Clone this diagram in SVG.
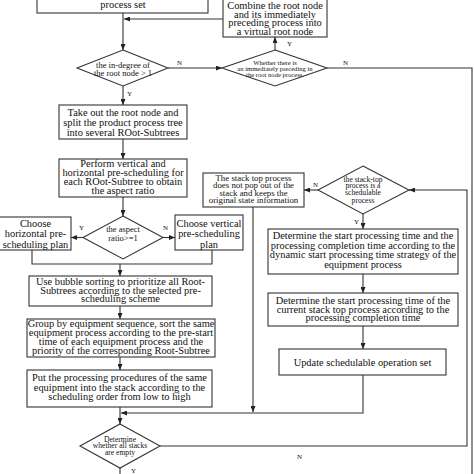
<svg xmlns="http://www.w3.org/2000/svg" width="474" height="474" viewBox="0 0 474 474">
<style>
.box{fill:#fff;stroke:#333;stroke-width:1.1}
.t{font-family:"Liberation Serif","Times New Roman",serif;font-size:10.4px;fill:#111;text-anchor:middle}
.s9{font-size:8.8px}
.s8{font-size:8.5px}
.s75{font-size:7.6px}
.s7{font-size:6.6px}
.ln{fill:none;stroke:#333;stroke-width:1.1}
.lb{font-family:"Liberation Serif","Times New Roman",serif;font-size:7px;fill:#111}
</style>
<defs>
<marker id="ah" markerWidth="6" markerHeight="5" refX="6" refY="2.5" orient="auto" markerUnits="userSpaceOnUse">
<path d="M0,0 L6,2.5 L0,5 z" fill="#222"/>
</marker>
</defs>
<rect width="474" height="474" fill="#fff"/>

<g id="connectors">
<path class="ln" d="M123,13 V50" marker-end="url(#ah)"/>
<path class="ln" d="M223,19 H124" marker-end="url(#ah)"/>
<path class="ln" d="M168,68 H222" marker-end="url(#ah)"/>
<path class="ln" d="M275,50 V37" marker-end="url(#ah)"/>
<path class="ln" d="M327,68 H472 V474"/>
<path class="ln" d="M123,86 V105" marker-end="url(#ah)"/>
<path class="ln" d="M123,139 V159" marker-end="url(#ah)"/>
<path class="ln" d="M123,197 V216" marker-end="url(#ah)"/>
<path class="ln" d="M83,237.5 H71" marker-end="url(#ah)"/>
<path class="ln" d="M163,237.5 H175" marker-end="url(#ah)"/>
<path class="ln" d="M32,250 V264 H212 V250"/>
<path class="ln" d="M120,264 V276" marker-end="url(#ah)"/>
<path class="ln" d="M120,306 V319" marker-end="url(#ah)"/>
<path class="ln" d="M120,357 V370" marker-end="url(#ah)"/>
<path class="ln" d="M120,407 V424" marker-end="url(#ah)"/>
<path class="ln" d="M363,375 V413 H121" marker-end="url(#ah)"/>
<path class="ln" d="M253,207 V412" marker-end="url(#ah)"/>
<path class="ln" d="M160,446 H467 V190 H409" marker-end="url(#ah)"/>
<path class="ln" d="M318,190 H304" marker-end="url(#ah)"/>
<path class="ln" d="M363,214 V229" marker-end="url(#ah)"/>
<path class="ln" d="M363,274 V293" marker-end="url(#ah)"/>
<path class="ln" d="M363,326 V349" marker-end="url(#ah)"/>
<path class="ln" d="M120,468 V474"/>
<text class="lb" x="177" y="64.5">N</text>
<text class="lb" x="127" y="96">Y</text>
<text class="lb" x="287" y="46">Y</text>
<text class="lb" x="343" y="64.5">N</text>
<text class="lb" x="79" y="229.5">Y</text>
<text class="lb" x="163" y="229.5">N</text>
<text class="lb" x="313" y="186.5">N</text>
<text class="lb" x="354" y="223.5">Y</text>
<text class="lb" x="297" y="458.5">N</text>
<text class="lb" x="131" y="473">Y</text>
</g>

<g id="node-process-set">
<rect class="box" x="37" y="-20" width="171" height="33"/>
<text class="t" x="123" y="8">process set</text>
</g>

<g id="node-combine">
<rect class="box" x="223" y="-1" width="104" height="38"/>
<text class="t"><tspan x="275" y="9">Combine the root node</tspan><tspan x="275" y="17.5">and its immediately</tspan><tspan x="275" y="26">preceding process into</tspan><tspan x="275" y="34.5">a virtual root node</tspan></text>
</g>

<g id="node-indegree">
<polygon class="box" points="123,50 168,68 123,86 77,68"/>
<text class="t s8"><tspan x="123" y="68">the in-degree of</tspan><tspan x="123" y="76">the root node &gt; 1</tspan></text>
</g>

<g id="node-whether">
<polygon class="box" points="275,50 327,68 275,86 222,68"/>
<text class="t s7"><tspan x="275" y="64.5">Whether there is</tspan><tspan x="275" y="70.5">an immediately preceding  in</tspan><tspan x="275" y="76.5">the root node process.</tspan></text>
</g>

<g id="node-takeout">
<rect class="box" x="59" y="105" width="128" height="34"/>
<text class="t"><tspan x="123" y="116">Take out the root node and</tspan><tspan x="123" y="126">split the product process tree</tspan><tspan x="123" y="136">into several ROot-Subtrees</tspan></text>
</g>

<g id="node-perform">
<rect class="box" x="59" y="159" width="128" height="38"/>
<text class="t"><tspan x="123" y="167">Perform vertical and</tspan><tspan x="123" y="176">horizontal pre-scheduling for</tspan><tspan x="123" y="185">each ROot-Subtree to obtain</tspan><tspan x="123" y="194">the aspect ratio</tspan></text>
</g>

<g id="node-aspect">
<polygon class="box" points="123,216 163,237.5 123,259 83,237.5"/>
<text class="t s8"><tspan x="123" y="232">the aspect</tspan><tspan x="123" y="241">ratio&gt;=1</tspan></text>
</g>

<g id="node-horizontal">
<rect class="box" x="-1" y="217" width="72" height="33"/>
<text class="t"><tspan x="35.5" y="226.5">Choose</tspan><tspan x="35.5" y="237">horizontal pre-</tspan><tspan x="35.5" y="247.5">scheduling plan</tspan></text>
</g>

<g id="node-vertical">
<rect class="box" x="175" y="215" width="68" height="35"/>
<text class="t"><tspan x="209" y="226.5">Choose vertical</tspan><tspan x="209" y="237">pre-scheduling</tspan><tspan x="209" y="247.5">plan</tspan></text>
</g>

<g id="node-bubble">
<rect class="box" x="29" y="276" width="183" height="30"/>
<text class="t"><tspan x="120.5" y="285">Use bubble sorting to prioritize all Root-</tspan><tspan x="120.5" y="293.5">Subtrees according to the selected pre-</tspan><tspan x="120.5" y="302">scheduling scheme</tspan></text>
</g>

<g id="node-group">
<rect class="box" x="27" y="319" width="188" height="38"/>
<text class="t"><tspan x="121" y="327">Group by equipment sequence, sort the same</tspan><tspan x="121" y="336">equipment process according to the pre-start</tspan><tspan x="121" y="345">time of each equipment process and the</tspan><tspan x="121" y="354">priority of the corresponding Root-Subtree</tspan></text>
</g>

<g id="node-put">
<rect class="box" x="27" y="370" width="185" height="37"/>
<text class="t"><tspan x="119.5" y="381">Put the processing procedures of the same</tspan><tspan x="119.5" y="390.5">equipment into the stack according to the</tspan><tspan x="119.5" y="400">scheduling order from low to high</tspan></text>
</g>

<g id="node-empty">
<polygon class="box" points="120,424 160,446 120,468 80,446"/>
<text class="t s75"><tspan x="120" y="441.5">Determine</tspan><tspan x="120" y="448.3">whether all stacks</tspan><tspan x="120" y="455">are empty</tspan></text>
</g>

<g id="node-nopop">
<rect class="box" x="203" y="173" width="101" height="34"/>
<text class="t s9"><tspan x="253.5" y="181">The stack top process</tspan><tspan x="253.5" y="188.3">does not pop out of the</tspan><tspan x="253.5" y="195.6">stack and keeps the</tspan><tspan x="253.5" y="203">original state information</tspan></text>
</g>

<g id="node-stacktop">
<polygon class="box" points="363,166 409,190 363,214 318,190"/>
<text class="t s75"><tspan x="363" y="181.5">the stack-top</tspan><tspan x="363" y="188.3">process is a</tspan><tspan x="363" y="195">schedulable</tspan><tspan x="363" y="203">process</tspan></text>
</g>

<g id="node-determine1">
<rect class="box" x="268" y="229" width="190" height="45"/>
<text class="t"><tspan x="363" y="239">Determine the start processing time and the</tspan><tspan x="363" y="248.7">processing completion time according to the</tspan><tspan x="363" y="258.4">dynamic start processing time strategy of the</tspan><tspan x="363" y="268">equipment process</tspan></text>
</g>

<g id="node-determine2">
<rect class="box" x="268" y="293" width="190" height="33"/>
<text class="t"><tspan x="363" y="304">Determine the start processing time of the</tspan><tspan x="363" y="312.5">current stack top process according to the</tspan><tspan x="363" y="321">processing completion time</tspan></text>
</g>

<g id="node-update">
<rect class="box" x="279" y="349" width="167" height="26"/>
<text class="t"><tspan x="362.5" y="365.5">Update schedulable operation set</tspan></text>
</g>
</svg>
